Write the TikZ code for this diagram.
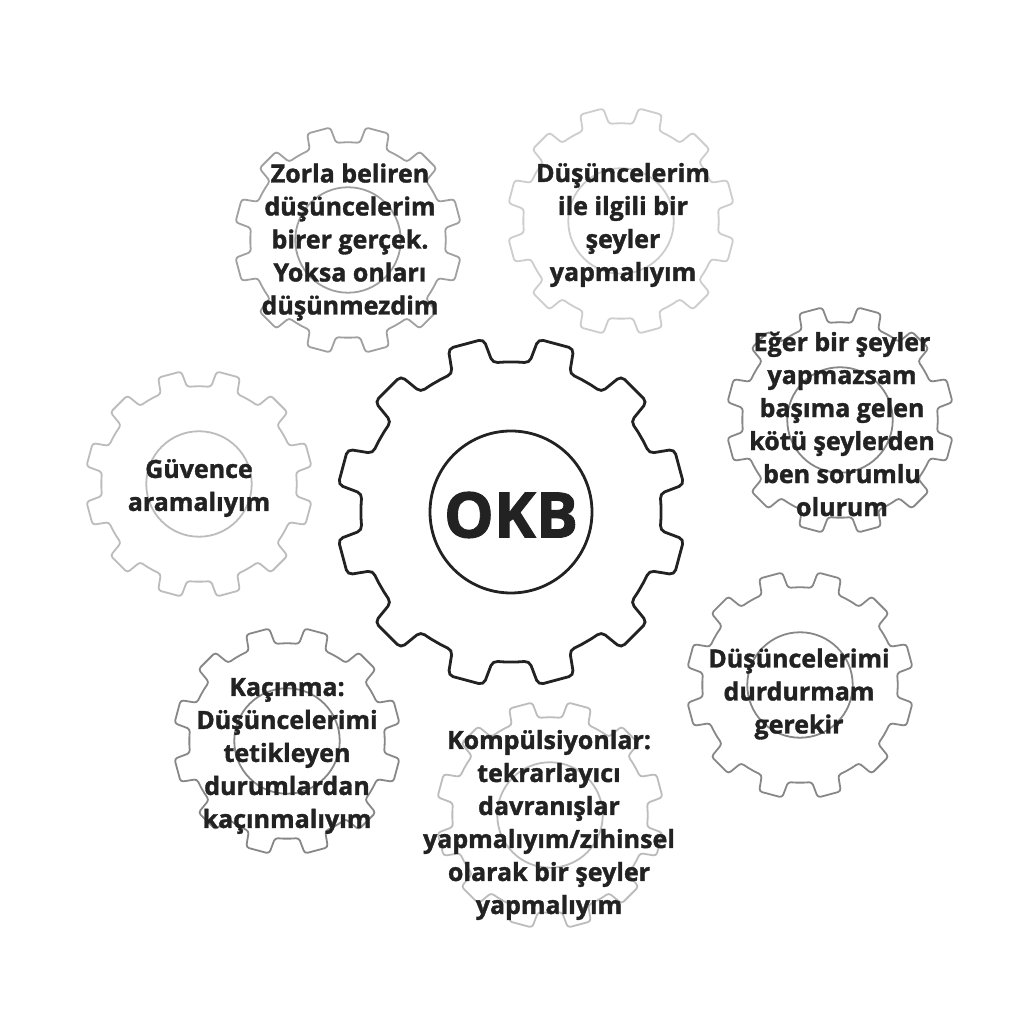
\documentclass[tikz,border=0pt]{standalone}
\usepackage{fontspec}
\setmainfont{Open Sans}[BoldFeatures={FakeBold=1.4}]
\usetikzlibrary{scopes}
\definecolor{okbInk}{RGB}{34,34,34}
\definecolor{cogPale}{RGB}{205,205,205}
\definecolor{cogLight}{RGB}{188,188,188}
\definecolor{cogMid}{RGB}{160,160,160}
\definecolor{cogDark}{RGB}{135,135,135}
\tikzset{
  cog/.pic={
    \draw[pic actions] (0:150)
      \foreach \a in {15,45,...,345}{
        arc[start angle=\a-15, end angle=\a-8, radius=150]
        -- (\a-6:175) -- (\a+6:175) -- (\a+8:150)
        arc[start angle=\a+8, end angle=\a+15, radius=150]
      } -- cycle;
    \draw[pic actions, rounded corners=0pt] (0,0) circle[radius=81];
  }
}

\begin{document}
\begin{tikzpicture}[x=1pt, y=1pt]
    \useasboundingbox[fill=white] (0,0) rectangle (1024,1024);
    {[every pic/.style={scale=0.651, line width=1.8pt, rounded corners=3pt}]
    \pic[draw=cogMid] at (348,784) {cog};
    \pic[draw=cogPale] at (621,803) {cog};
    \pic[draw=cogDark] at (840,604) {cog};
    \pic[draw=cogLight] at (199,540) {cog};
    \pic[draw=cogDark] at (800,339) {cog};
    \pic[draw=cogDark] at (287,283) {cog};
    \pic[draw=cogLight] at (550,209) {cog};
    }
    \pic[draw=okbInk, line width=2.8pt, rounded corners=5pt] at (511,512) {cog};
    \node[text=okbInk, font=\bfseries\fontsize{63}{63}\selectfont] (OKB) at (511,509) {OKB};
    {[every node/.style={text=okbInk, align=center, font=\bfseries\fontsize{25}{33}\selectfont}]
    \node (Zorla-text) at (350,782) {Zorla beliren\\düşüncelerim\\birer gerçek.\\Yoksa onları\\düşünmezdim};
    \node (Ilgili-text) at (623,799) {Düşüncelerim\\ile ilgili bir\\şeyler\\yapmalıyım};
    \node (Eger-text) at (842,600) {Eğer bir şeyler\\yapmazsam\\başıma gelen\\kötü şeylerden\\ben sorumlu\\olurum};
    \node (Guvence-text) at (199,536) {Güvence\\aramalıyım};
    \node (Durdur-text) at (799,330) {Düşüncelerimi\\durdurmam\\gerekir};
    \node (Kacinma-text) at (287,268) {Kaçınma:\\Düşüncelerimi\\tetikleyen\\durumlardan\\kaçınmalıyım};
    \node (Kompulsiyon-text) at (549,199) {Kompülsiyonlar:\\tekrarlayıcı\\davranışlar\\yapmalıyım/zihinsel\\olarak bir şeyler\\yapmalıyım};
    }
\end{tikzpicture}
\end{document}
